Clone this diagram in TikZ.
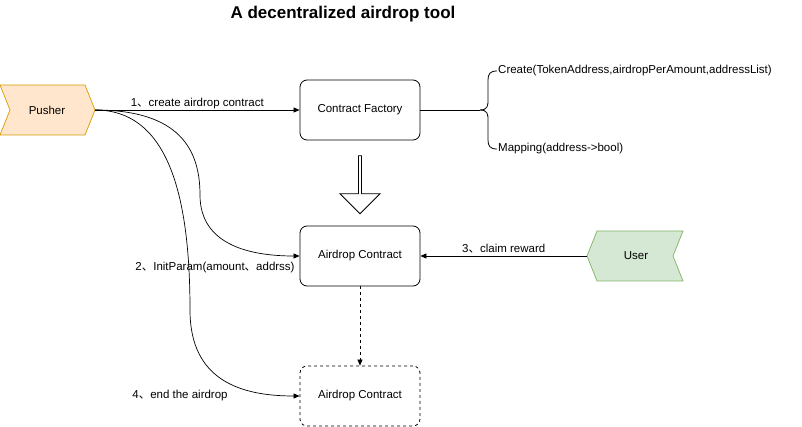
\documentclass[tikz,border=0pt]{standalone}
\usepackage{fontspec}
\setmainfont{Liberation Sans}
\newfontfamily\cjk{Noto Sans CJK SC}
\usetikzlibrary{arrows.meta,shapes.arrows}
\definecolor{orf}{HTML}{FFE6CC}\definecolor{ord}{HTML}{D79B00}
\definecolor{grf}{HTML}{D5E8D4}\definecolor{grd}{HTML}{82B366}
\begin{document}
\begin{tikzpicture}[x=1pt,y=-1pt,font=\fontsize{11.5}{13}\selectfont,
  box/.style={draw,rounded corners=7pt,minimum width=120pt,minimum height=60pt,line width=0.8pt},
  con/.style={draw,line width=0.7pt,-{Triangle[length=6pt,width=5pt]}},
  lbl/.style={inner sep=1pt}]
\useasboundingbox (0,0) rectangle (802,427);
\node[font=\fontsize{17}{20}\selectfont\bfseries] (title) at (343,14) {A decentralized airdrop tool};
\draw[fill=orf,draw=ord,line width=0.7pt]
  (0,85) -- (85,85) -- (95,110) -- (85,135) -- (0,135) -- (10,110) -- cycle;
\node (pusher) at (47,110) {Pusher};
\coordinate (pr) at (95,110);
\draw[fill=grf,draw=grd,line width=0.7pt]
  (597,231) -- (683,231) -- (673,256) -- (683,281) -- (597,281) -- (587,256) -- cycle;
\node (user) at (636,256) {User};
\coordinate (ul) at (587,256);
\node[box] (cf) at (360,110) {Contract Factory};
\node[box] (ac) at (360,256) {Airdrop Contract};
\node[box,dashed] (ac2) at (360,396) {Airdrop Contract};
\node[single arrow,draw,line width=0.8pt,shape border rotate=270,minimum height=58pt,minimum width=40pt,single arrow head extend=5pt,inner sep=0pt] (ba) at (360,184) {};
\draw[con] (pr) -- node[lbl,above] {1{\cjk 、}create airdrop contract} (cf.west);
\draw[con] (pr) .. controls (180,110) and (200,150) .. (200,195) .. controls (200,245) and (250,256) .. (ac.west);
\draw[con] (pr) .. controls (170,110) and (190,200) .. (190,310) .. controls (190,380) and (240,396) .. (ac2.west);
\node[lbl] (l2) at (215,268) {2{\cjk 、}InitParam(amount{\cjk 、}addrss)};
\node[lbl] (l4) at (180,396) {4{\cjk 、}end the airdrop};
\draw[con] (ul) -- node[lbl,above,yshift=2pt] {3{\cjk 、}claim reward} (ac.east);
\draw[con,dashed] (ac.south) -- (ac2.north);
\coordinate (bm) at (480,110);
\draw[line width=0.8pt] (cf.east) -- (bm);
\draw[line width=0.8pt] (bm) .. controls (488,110) and (488,105) .. (488,100) -- (488,80) .. controls (488,74) and (490,71) .. (497,71);
\draw[line width=0.8pt] (bm) .. controls (488,110) and (488,115) .. (488,120) -- (488,140) .. controls (488,146) and (490,149) .. (497,149);
\node[anchor=west,inner sep=1pt] (t1) at (497,71) {Create(TokenAddress,airdropPerAmount,addressList)};
\node[anchor=west,inner sep=1pt] (t2) at (497,149) {Mapping(address->bool)};
\end{tikzpicture}
\end{document}
